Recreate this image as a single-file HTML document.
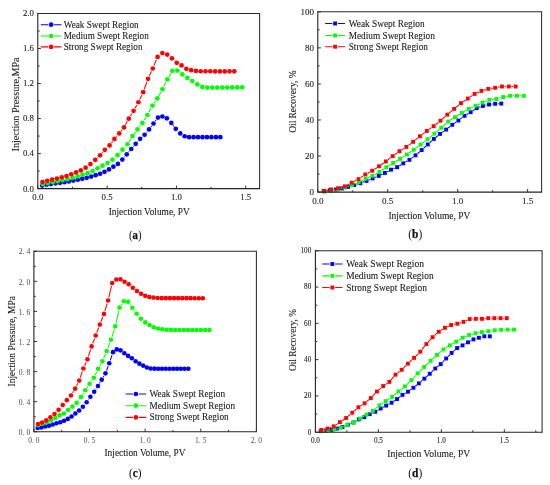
<!DOCTYPE html>
<html lang="en">
<head>
<meta charset="utf-8">
<title>Injection pressure and oil recovery curves</title>
<style>
html,body{margin:0;padding:0;background:#fff;}
body{width:550px;height:485px;overflow:hidden;}
svg{display:block;}
</style>
</head>
<body>
<svg width="550" height="485" viewBox="0 0 550 485" font-family='"Liberation Serif", serif' fill="#1a1a1a">
<rect width="550" height="485" fill="#ffffff"/>
<g id="panel-a">
<path d="M124.32 157.18L124.77 156.65M128.77 151.92L129.23 151.37M133.26 146.66L133.65 146.2M137.72 141.53L138.09 141.11M146.58 132.38L147.05 131.83M150.91 126.98L151.63 126.02M155.36 121.06L156.09 120.09M173.17 125.42L173.9 126.39" fill="none" stroke="#0000ff" stroke-width="1.05"/>
<g fill="#0000ff"><circle cx="42.15" cy="185.56" r="2.35"/><circle cx="46.61" cy="184.73" r="2.35"/><circle cx="51.06" cy="184.06" r="2.35"/><circle cx="55.51" cy="183.36" r="2.35"/><circle cx="59.97" cy="182.84" r="2.35"/><circle cx="64.42" cy="182.24" r="2.35"/><circle cx="68.88" cy="181.45" r="2.35"/><circle cx="73.33" cy="180.6" r="2.35"/><circle cx="77.78" cy="179.77" r="2.35"/><circle cx="82.24" cy="178.87" r="2.35"/><circle cx="86.69" cy="177.8" r="2.35"/><circle cx="91.14" cy="176.61" r="2.35"/><circle cx="95.6" cy="175.22" r="2.35"/><circle cx="100.05" cy="173.73" r="2.35"/><circle cx="104.5" cy="171.86" r="2.35"/><circle cx="108.96" cy="169.42" r="2.35"/><circle cx="113.41" cy="166.72" r="2.35"/><circle cx="117.87" cy="163.95" r="2.35"/><circle cx="122.32" cy="159.55" r="2.35"/><circle cx="126.77" cy="154.29" r="2.35"/><circle cx="131.23" cy="149" r="2.35"/><circle cx="135.68" cy="143.86" r="2.35"/><circle cx="140.13" cy="138.78" r="2.35"/><circle cx="144.59" cy="134.76" r="2.35"/><circle cx="149.04" cy="129.46" r="2.35"/><circle cx="153.5" cy="123.54" r="2.35"/><circle cx="157.95" cy="117.61" r="2.35"/><circle cx="162.4" cy="116.52" r="2.35"/><circle cx="166.86" cy="118.34" r="2.35"/><circle cx="171.31" cy="122.95" r="2.35"/><circle cx="175.76" cy="128.86" r="2.35"/><circle cx="180.22" cy="133.4" r="2.35"/><circle cx="184.67" cy="136.24" r="2.35"/><circle cx="189.12" cy="137.22" r="2.35"/><circle cx="193.58" cy="137.22" r="2.35"/><circle cx="198.03" cy="137.22" r="2.35"/><circle cx="202.49" cy="137.22" r="2.35"/><circle cx="206.94" cy="137.22" r="2.35"/><circle cx="211.39" cy="137.22" r="2.35"/><circle cx="215.85" cy="137.22" r="2.35"/><circle cx="220.3" cy="137.16" r="2.35"/></g>
<path d="M114.83 157.6L115.19 157.28M119.58 152.91L120.42 151.98M124.59 147.4L125.38 146.54M129.09 141.61L130.86 138.69M134.34 133.57L135.58 131.93M139.34 127L140.56 125.43M144.09 120.34L145.79 117.61M148.88 112.24L150.97 108.32M154.19 103.04L155.64 100.95M158.91 95.69L160.9 92.08M163.78 86.59L166 82.16M168.95 76.71L170.81 73.52" fill="none" stroke="#00ff00" stroke-width="1.05"/>
<g fill="#00ff00"><circle cx="42.69" cy="184.04" r="2.35"/><circle cx="47.68" cy="183.08" r="2.35"/><circle cx="52.66" cy="182.16" r="2.35"/><circle cx="57.65" cy="181.21" r="2.35"/><circle cx="62.64" cy="180.26" r="2.35"/><circle cx="67.63" cy="179.05" r="2.35"/><circle cx="72.61" cy="177.71" r="2.35"/><circle cx="77.6" cy="176.42" r="2.35"/><circle cx="82.59" cy="174.96" r="2.35"/><circle cx="87.58" cy="173.19" r="2.35"/><circle cx="92.57" cy="170.99" r="2.35"/><circle cx="97.55" cy="168.3" r="2.35"/><circle cx="102.54" cy="165.67" r="2.35"/><circle cx="107.53" cy="163" r="2.35"/><circle cx="112.52" cy="159.66" r="2.35"/><circle cx="117.5" cy="155.21" r="2.35"/><circle cx="122.49" cy="149.68" r="2.35"/><circle cx="127.48" cy="144.26" r="2.35"/><circle cx="132.47" cy="136.04" r="2.35"/><circle cx="137.46" cy="129.46" r="2.35"/><circle cx="142.44" cy="122.97" r="2.35"/><circle cx="147.43" cy="114.98" r="2.35"/><circle cx="152.42" cy="105.58" r="2.35"/><circle cx="157.41" cy="98.4" r="2.35"/><circle cx="162.4" cy="89.37" r="2.35"/><circle cx="167.38" cy="79.38" r="2.35"/><circle cx="172.37" cy="70.84" r="2.35"/><circle cx="177.36" cy="70.62" r="2.35"/><circle cx="182.35" cy="74.47" r="2.35"/><circle cx="187.33" cy="77.94" r="2.35"/><circle cx="192.32" cy="81.07" r="2.35"/><circle cx="197.31" cy="84.47" r="2.35"/><circle cx="202.3" cy="86.93" r="2.35"/><circle cx="207.29" cy="87.59" r="2.35"/><circle cx="212.27" cy="87.59" r="2.35"/><circle cx="217.26" cy="87.59" r="2.35"/><circle cx="222.25" cy="87.57" r="2.35"/><circle cx="227.24" cy="87.53" r="2.35"/><circle cx="232.22" cy="87.47" r="2.35"/><circle cx="237.21" cy="87.4" r="2.35"/><circle cx="242.2" cy="87.3" r="2.35"/></g>
<path d="M97.52 157.7L97.76 157.48M102.07 153.03L102.8 152.19M107.11 147.75L107.35 147.53M111.46 142.93L112.59 141.4M116.47 136.57L117.17 135.77M121.16 131.02L122.07 129.88M125.49 124.74L127.33 121.36M130.43 115.99L131.98 113.48M135.11 108.13L136.89 104.95M139.73 99.44L141.86 94.97M144.24 89.26L146.94 81.72M149.3 75.99L151.47 71.32M153.97 65.64L156.39 59.81M174.22 60.45L174.5 60.71" fill="none" stroke="#ff0000" stroke-width="1.05"/>
<g fill="#ff0000"><circle cx="42.5" cy="182.07" r="2.35"/><circle cx="47.29" cy="180.79" r="2.35"/><circle cx="52.09" cy="179.72" r="2.35"/><circle cx="56.88" cy="178.62" r="2.35"/><circle cx="61.68" cy="177.37" r="2.35"/><circle cx="66.47" cy="176.08" r="2.35"/><circle cx="71.27" cy="174.23" r="2.35"/><circle cx="76.06" cy="172.45" r="2.35"/><circle cx="80.86" cy="170.42" r="2.35"/><circle cx="85.65" cy="167.63" r="2.35"/><circle cx="90.45" cy="164.06" r="2.35"/><circle cx="95.24" cy="159.81" r="2.35"/><circle cx="100.04" cy="155.37" r="2.35"/><circle cx="104.83" cy="149.85" r="2.35"/><circle cx="109.63" cy="145.43" r="2.35"/><circle cx="114.42" cy="138.9" r="2.35"/><circle cx="119.22" cy="133.44" r="2.35"/><circle cx="124.01" cy="127.46" r="2.35"/><circle cx="128.81" cy="118.64" r="2.35"/><circle cx="133.6" cy="110.84" r="2.35"/><circle cx="138.4" cy="102.24" r="2.35"/><circle cx="143.19" cy="92.17" r="2.35"/><circle cx="147.99" cy="78.8" r="2.35"/><circle cx="152.78" cy="68.51" r="2.35"/><circle cx="157.58" cy="56.94" r="2.35"/><circle cx="162.37" cy="53.05" r="2.35"/><circle cx="167.17" cy="54.53" r="2.35"/><circle cx="171.96" cy="58.32" r="2.35"/><circle cx="176.76" cy="62.84" r="2.35"/><circle cx="181.55" cy="65.43" r="2.35"/><circle cx="186.35" cy="68.85" r="2.35"/><circle cx="191.14" cy="70.14" r="2.35"/><circle cx="195.94" cy="70.88" r="2.35"/><circle cx="200.73" cy="71.24" r="2.35"/><circle cx="205.53" cy="71.24" r="2.35"/><circle cx="210.32" cy="71.24" r="2.35"/><circle cx="215.12" cy="71.42" r="2.35"/><circle cx="219.91" cy="71.42" r="2.35"/><circle cx="224.71" cy="71.4" r="2.35"/><circle cx="229.5" cy="71.36" r="2.35"/><circle cx="234.3" cy="71.3" r="2.35"/></g>
<path d="M37.8 13.5 H259.6 V188.6" fill="none" stroke="#2a2a2a" stroke-width="1.05"/>
<path d="M37.8 13.5 V188.6 H259.6" fill="none" stroke="#222" stroke-width="1.1" stroke-linecap="square"/>
<path d="M37.8 188.6 v-3.1 M107.11 188.6 v-3.1 M176.43 188.6 v-3.1 M245.74 188.6 v-3.1 M72.46 188.6 v-1.9 M141.77 188.6 v-1.9 M211.08 188.6 v-1.9 M37.8 188.6 h3.1 M37.8 153.58 h3.1 M37.8 118.56 h3.1 M37.8 83.54 h3.1 M37.8 48.52 h3.1 M37.8 13.5 h3.1 M37.8 171.09 h1.9 M37.8 136.07 h1.9 M37.8 101.05 h1.9 M37.8 66.03 h1.9 M37.8 31.01 h1.9" fill="none" stroke="#2a2a2a" stroke-width="0.95"/>
<g font-size="8.8" fill="#222" stroke="#222" stroke-width="0.1">
<text x="37.8" y="199.5" text-anchor="middle">0.0</text>
<text x="107.11" y="199.5" text-anchor="middle">0.5</text>
<text x="176.43" y="199.5" text-anchor="middle">1.0</text>
<text x="245.74" y="199.5" text-anchor="middle">1.5</text>
<text x="33.9" y="191.5" text-anchor="end">0.0</text>
<text x="33.9" y="156.48" text-anchor="end">0.4</text>
<text x="33.9" y="121.46" text-anchor="end">0.8</text>
<text x="33.9" y="86.44" text-anchor="end">1.2</text>
<text x="33.9" y="51.42" text-anchor="end">1.6</text>
<text x="33.9" y="16.4" text-anchor="end">2.0</text>
</g>
<text x="149.2" y="215" font-size="9.5" stroke="#222" stroke-width="0.1" text-anchor="middle" textLength="81" lengthAdjust="spacingAndGlyphs">Injection Volume, PV</text>
<text transform="translate(18.6 104.4) rotate(-90)" font-size="9.5" stroke="#222" stroke-width="0.1" text-anchor="middle" textLength="94" lengthAdjust="spacingAndGlyphs">Injection Pressure,MPa</text>
<path d="M40.8 24.7 H48.25 M54.05 24.7 H61.5" stroke="#0000ff" stroke-width="1.15" fill="none"/>
<circle cx="51.15" cy="24.7" r="2.35" fill="#0000ff"/>
<text x="63.7" y="27.9" font-size="9.5" stroke="#222" stroke-width="0.1" textLength="74.9" lengthAdjust="spacingAndGlyphs">Weak Swept Region</text>
<path d="M40.8 36.0 H48.25 M54.05 36.0 H61.5" stroke="#00ff00" stroke-width="1.15" fill="none"/>
<circle cx="51.15" cy="36.0" r="2.35" fill="#00ff00"/>
<text x="63.7" y="39.2" font-size="9.5" stroke="#222" stroke-width="0.1" textLength="85.1" lengthAdjust="spacingAndGlyphs">Medium Swept Region</text>
<path d="M40.8 46.9 H48.25 M54.05 46.9 H61.5" stroke="#ff0000" stroke-width="1.15" fill="none"/>
<circle cx="51.15" cy="46.9" r="2.35" fill="#ff0000"/>
<text x="63.7" y="50.1" font-size="9.5" stroke="#222" stroke-width="0.1" textLength="78.8" lengthAdjust="spacingAndGlyphs">Strong Swept Region</text>
<text x="135.3" y="238.5" font-size="11.8" text-anchor="middle" fill="#111" textLength="12.6" lengthAdjust="spacingAndGlyphs">(<tspan font-weight="bold" stroke="#111" stroke-width="0.25">a</tspan>)</text>
</g>
<g id="panel-b">
<path d="M326.21 190.62L327.17 190.52M332.33 189.92L333.29 189.81M338.44 189.07L339.44 188.89M344.52 187.8L345.61 187.51M350.62 186.13L351.76 185.8M356.75 184.34L357.88 184.01M362.8 182.34L364.08 181.85M368.91 179.92L370.23 179.38M375.04 177.41L376.35 176.87M381.1 174.77L382.54 174.08M387.18 171.73L388.71 170.92M393.41 168.71L394.73 168.17M399.34 165.81L401.06 164.74M405.51 162.07L407.13 161.14M411.48 158.3L413.42 156.88M417.48 153.64L419.67 151.76M423.55 148.31L425.85 146.21M429.69 142.71L431.96 140.66M435.9 137.27L438 135.55M442.14 132.4L444.02 131.08M448.2 127.99L450.21 126.43M454.39 123.34L456.27 122.01M460.46 118.94L462.45 117.41M466.75 114.49L468.41 113.5M472.81 110.73L474.6 109.54M479.22 107.24L480.44 106.81M485.43 105.35L486.49 105.1M491.6 104.19L492.57 104.07M497.75 103.68L498.67 103.66" fill="none" stroke="#0000ff" stroke-width="1.05"/>
<g fill="#0000ff"><rect x="321.68" y="188.97" width="3.9" height="3.9"/><rect x="327.8" y="188.27" width="3.9" height="3.9"/><rect x="333.93" y="187.56" width="3.9" height="3.9"/><rect x="340.05" y="186.5" width="3.9" height="3.9"/><rect x="346.18" y="184.91" width="3.9" height="3.9"/><rect x="352.3" y="183.11" width="3.9" height="3.9"/><rect x="358.43" y="181.33" width="3.9" height="3.9"/><rect x="364.56" y="178.96" width="3.9" height="3.9"/><rect x="370.68" y="176.44" width="3.9" height="3.9"/><rect x="376.81" y="173.94" width="3.9" height="3.9"/><rect x="382.93" y="171" width="3.9" height="3.9"/><rect x="389.06" y="167.75" width="3.9" height="3.9"/><rect x="395.18" y="165.24" width="3.9" height="3.9"/><rect x="401.31" y="161.41" width="3.9" height="3.9"/><rect x="407.44" y="157.89" width="3.9" height="3.9"/><rect x="413.56" y="153.39" width="3.9" height="3.9"/><rect x="419.69" y="148.11" width="3.9" height="3.9"/><rect x="425.81" y="142.5" width="3.9" height="3.9"/><rect x="431.94" y="136.97" width="3.9" height="3.9"/><rect x="438.07" y="131.95" width="3.9" height="3.9"/><rect x="444.19" y="127.63" width="3.9" height="3.9"/><rect x="450.32" y="122.88" width="3.9" height="3.9"/><rect x="456.44" y="118.57" width="3.9" height="3.9"/><rect x="462.57" y="113.88" width="3.9" height="3.9"/><rect x="468.69" y="110.22" width="3.9" height="3.9"/><rect x="474.82" y="106.15" width="3.9" height="3.9"/><rect x="480.95" y="103.99" width="3.9" height="3.9"/><rect x="487.07" y="102.55" width="3.9" height="3.9"/><rect x="493.2" y="101.81" width="3.9" height="3.9"/><rect x="499.32" y="101.63" width="3.9" height="3.9"/></g>
<path d="M326.96 191.36L328.67 191.17M333.79 190.34L335.59 189.95M340.65 188.74L342.49 188.27M347.44 186.71L349.45 185.95M354.31 184.09L356.34 183.29M361.07 181.14L363.34 179.95M368.03 177.71L370.13 176.8M374.8 174.51L377.12 173.24M381.54 170.53L384.12 168.77M388.48 165.93L390.94 164.4M395.38 161.68L397.8 160.21M402.23 157.48L404.7 155.92M409.03 153.05L411.65 151.21M415.87 148.16L418.57 146.14M422.71 142.99L425.49 140.82M429.56 137.58L432.39 135.29M436.38 131.96L439.32 129.42M443.24 125.99L446.22 123.34M450.34 120.19L452.87 118.54M457.27 115.77L459.7 114.31M464.17 111.66L466.55 110.29M471.15 107.88L473.33 106.85M478.05 104.68L480.18 103.73M484.95 101.66L487.04 100.78M492.02 99.5L493.72 99.32M498.81 98.33L500.69 97.78M505.74 96.58L507.51 96.25M512.66 95.77L514.34 95.77M519.54 95.77L521.22 95.77" fill="none" stroke="#00ff00" stroke-width="1.05"/>
<g fill="#00ff00"><rect x="322.43" y="189.69" width="3.9" height="3.9"/><rect x="329.3" y="188.95" width="3.9" height="3.9"/><rect x="336.18" y="187.44" width="3.9" height="3.9"/><rect x="343.06" y="185.67" width="3.9" height="3.9"/><rect x="349.94" y="183.09" width="3.9" height="3.9"/><rect x="356.81" y="180.4" width="3.9" height="3.9"/><rect x="363.69" y="176.79" width="3.9" height="3.9"/><rect x="370.57" y="173.81" width="3.9" height="3.9"/><rect x="377.45" y="170.05" width="3.9" height="3.9"/><rect x="384.32" y="165.35" width="3.9" height="3.9"/><rect x="391.2" y="161.07" width="3.9" height="3.9"/><rect x="398.08" y="156.92" width="3.9" height="3.9"/><rect x="404.95" y="152.59" width="3.9" height="3.9"/><rect x="411.83" y="147.77" width="3.9" height="3.9"/><rect x="418.71" y="142.64" width="3.9" height="3.9"/><rect x="425.59" y="137.26" width="3.9" height="3.9"/><rect x="432.46" y="131.7" width="3.9" height="3.9"/><rect x="439.34" y="125.77" width="3.9" height="3.9"/><rect x="446.22" y="119.66" width="3.9" height="3.9"/><rect x="453.1" y="115.17" width="3.9" height="3.9"/><rect x="459.97" y="111.01" width="3.9" height="3.9"/><rect x="466.85" y="107.04" width="3.9" height="3.9"/><rect x="473.73" y="103.79" width="3.9" height="3.9"/><rect x="480.6" y="100.72" width="3.9" height="3.9"/><rect x="487.48" y="97.82" width="3.9" height="3.9"/><rect x="494.36" y="97.1" width="3.9" height="3.9"/><rect x="501.24" y="95.11" width="3.9" height="3.9"/><rect x="508.11" y="93.82" width="3.9" height="3.9"/><rect x="514.99" y="93.82" width="3.9" height="3.9"/><rect x="521.87" y="93.82" width="3.9" height="3.9"/></g>
<path d="M326.88 190.35L328.62 189.99M333.72 188.98L335.44 188.67M340.51 187.51L342.32 187.02M347.13 185.13L349.36 183.95M353.96 181.52L356.19 180.35M360.64 177.68L363.18 175.94M367.61 173.23L369.87 172.01M374.33 169.35L376.82 167.71M381.11 164.78L383.7 162.95M387.87 159.84L390.61 157.7M394.77 154.59L397.37 152.75M401.69 149.86L404.12 148.32M408.4 145.38L411.07 143.39M415.17 140.19L417.97 137.92M422.03 134.67L424.77 132.54M428.94 129.44L431.52 127.63M435.69 124.52L438.44 122.35M442.42 119.01L445.37 116.38M449.3 112.97L452.16 110.58M456.14 107.23L458.99 104.84M463.13 101.71L465.65 100.01M469.96 97.09L472.49 95.36M477.02 92.84L479.1 91.92M483.97 90.13L485.81 89.59M490.87 88.45L492.57 88.18M497.7 87.3L499.42 86.98M504.57 86.51L506.2 86.51M511.4 86.51L513.04 86.51" fill="none" stroke="#ff0000" stroke-width="1.05"/>
<g fill="#ff0000"><rect x="322.38" y="188.94" width="3.9" height="3.9"/><rect x="329.21" y="187.5" width="3.9" height="3.9"/><rect x="336.05" y="186.25" width="3.9" height="3.9"/><rect x="342.88" y="184.39" width="3.9" height="3.9"/><rect x="349.71" y="180.78" width="3.9" height="3.9"/><rect x="356.54" y="177.19" width="3.9" height="3.9"/><rect x="363.38" y="172.52" width="3.9" height="3.9"/><rect x="370.21" y="168.82" width="3.9" height="3.9"/><rect x="377.04" y="164.34" width="3.9" height="3.9"/><rect x="383.87" y="159.5" width="3.9" height="3.9"/><rect x="390.71" y="154.15" width="3.9" height="3.9"/><rect x="397.54" y="149.29" width="3.9" height="3.9"/><rect x="404.37" y="144.99" width="3.9" height="3.9"/><rect x="411.2" y="139.88" width="3.9" height="3.9"/><rect x="418.03" y="134.32" width="3.9" height="3.9"/><rect x="424.87" y="128.99" width="3.9" height="3.9"/><rect x="431.7" y="124.19" width="3.9" height="3.9"/><rect x="438.53" y="118.78" width="3.9" height="3.9"/><rect x="445.36" y="112.7" width="3.9" height="3.9"/><rect x="452.2" y="106.95" width="3.9" height="3.9"/><rect x="459.03" y="101.21" width="3.9" height="3.9"/><rect x="465.86" y="96.61" width="3.9" height="3.9"/><rect x="472.69" y="91.95" width="3.9" height="3.9"/><rect x="479.52" y="88.91" width="3.9" height="3.9"/><rect x="486.36" y="86.91" width="3.9" height="3.9"/><rect x="493.19" y="85.82" width="3.9" height="3.9"/><rect x="500.02" y="84.56" width="3.9" height="3.9"/><rect x="506.85" y="84.56" width="3.9" height="3.9"/><rect x="513.69" y="84.56" width="3.9" height="3.9"/></g>
<path d="M317.8 11.8 H541.6 V192.1" fill="none" stroke="#2a2a2a" stroke-width="1.05"/>
<path d="M317.8 11.8 V192.1 H541.6" fill="none" stroke="#222" stroke-width="1.1" stroke-linecap="square"/>
<path d="M317.8 192.1 v-3.1 M387.74 192.1 v-3.1 M457.68 192.1 v-3.1 M527.61 192.1 v-3.1 M352.77 192.1 v-1.9 M422.71 192.1 v-1.9 M492.64 192.1 v-1.9 M317.8 192.1 h3.1 M317.8 156.04 h3.1 M317.8 119.98 h3.1 M317.8 83.92 h3.1 M317.8 47.86 h3.1 M317.8 11.8 h3.1 M317.8 174.07 h1.9 M317.8 138.01 h1.9 M317.8 101.95 h1.9 M317.8 65.89 h1.9 M317.8 29.83 h1.9" fill="none" stroke="#2a2a2a" stroke-width="0.95"/>
<g font-size="9.0" fill="#222" stroke="#222" stroke-width="0.1">
<text x="317.8" y="203.5" text-anchor="middle">0.0</text>
<text x="387.74" y="203.5" text-anchor="middle">0.5</text>
<text x="457.68" y="203.5" text-anchor="middle">1.0</text>
<text x="527.61" y="203.5" text-anchor="middle">1.5</text>
<text x="314" y="195.07" text-anchor="end">0</text>
<text x="314" y="159.01" text-anchor="end">20</text>
<text x="314" y="122.95" text-anchor="end">40</text>
<text x="314" y="86.89" text-anchor="end">60</text>
<text x="314" y="50.83" text-anchor="end">80</text>
<text x="314" y="14.77" text-anchor="end">100</text>
</g>
<text x="429.4" y="218.6" font-size="9.5" stroke="#222" stroke-width="0.1" text-anchor="middle" textLength="82" lengthAdjust="spacingAndGlyphs">Injection Volume, PV</text>
<text transform="translate(295.8 101.6) rotate(-90)" font-size="9.5" stroke="#222" stroke-width="0.1" text-anchor="middle" textLength="62.4" lengthAdjust="spacingAndGlyphs">Oil Recovery, %</text>
<path d="M325.2 23.5 H332.3 M337.9 23.5 H345" stroke="#0000ff" stroke-width="1.15" fill="none"/>
<rect x="333.15" y="21.55" width="3.9" height="3.9" fill="#0000ff"/>
<text x="348.7" y="27" font-size="9.5" stroke="#222" stroke-width="0.1" textLength="76" lengthAdjust="spacingAndGlyphs">Weak Swept Region</text>
<path d="M325.2 35.5 H332.3 M337.9 35.5 H345" stroke="#00ff00" stroke-width="1.15" fill="none"/>
<rect x="333.15" y="33.55" width="3.9" height="3.9" fill="#00ff00"/>
<text x="348.7" y="39" font-size="9.5" stroke="#222" stroke-width="0.1" textLength="86.2" lengthAdjust="spacingAndGlyphs">Medium Swept Region</text>
<path d="M325.2 46.7 H332.3 M337.9 46.7 H345" stroke="#ff0000" stroke-width="1.15" fill="none"/>
<rect x="333.15" y="44.75" width="3.9" height="3.9" fill="#ff0000"/>
<text x="348.7" y="50.2" font-size="9.5" stroke="#222" stroke-width="0.1" textLength="79.2" lengthAdjust="spacingAndGlyphs">Strong Swept Region</text>
<text x="415.2" y="237.7" font-size="11.8" text-anchor="middle" fill="#111" textLength="14.0" lengthAdjust="spacingAndGlyphs">(<tspan font-weight="bold" stroke="#111" stroke-width="0.25">b</tspan>)</text>
</g>
<g id="panel-c">
<path d="M88.41 399.69L88.65 399.34M95.88 389.19L96.24 388.64M99.52 383.38L100.14 382.31M103.31 376.98L103.89 376.02M106.56 370.45L108.17 366.14M110.25 360.3L112.02 355.08" fill="none" stroke="#0000ff" stroke-width="1.05"/>
<g fill="#0000ff"><circle cx="37.67" cy="428.04" r="2.3"/><circle cx="41.43" cy="427.45" r="2.3"/><circle cx="45.2" cy="426.53" r="2.3"/><circle cx="48.97" cy="425.63" r="2.3"/><circle cx="52.74" cy="424.53" r="2.3"/><circle cx="56.5" cy="423.28" r="2.3"/><circle cx="60.27" cy="422.2" r="2.3"/><circle cx="64.04" cy="420.74" r="2.3"/><circle cx="67.81" cy="418.92" r="2.3"/><circle cx="71.57" cy="416.57" r="2.3"/><circle cx="75.34" cy="413.51" r="2.3"/><circle cx="79.11" cy="410.46" r="2.3"/><circle cx="82.88" cy="406.7" r="2.3"/><circle cx="86.64" cy="402.24" r="2.3"/><circle cx="90.41" cy="396.79" r="2.3"/><circle cx="94.18" cy="391.78" r="2.3"/><circle cx="97.95" cy="386.05" r="2.3"/><circle cx="101.71" cy="379.64" r="2.3"/><circle cx="105.48" cy="373.36" r="2.3"/><circle cx="109.25" cy="363.24" r="2.3"/><circle cx="113.02" cy="352.15" r="2.3"/><circle cx="116.78" cy="349.42" r="2.3"/><circle cx="120.55" cy="350.33" r="2.3"/><circle cx="124.32" cy="353.2" r="2.3"/><circle cx="128.09" cy="355.9" r="2.3"/><circle cx="131.85" cy="358.22" r="2.3"/><circle cx="135.62" cy="361.27" r="2.3"/><circle cx="139.39" cy="363.63" r="2.3"/><circle cx="143.15" cy="365.62" r="2.3"/><circle cx="146.92" cy="367.47" r="2.3"/><circle cx="150.69" cy="368.45" r="2.3"/><circle cx="154.46" cy="368.67" r="2.3"/><circle cx="158.22" cy="368.68" r="2.3"/><circle cx="161.99" cy="368.68" r="2.3"/><circle cx="165.76" cy="368.68" r="2.3"/><circle cx="169.53" cy="368.68" r="2.3"/><circle cx="173.29" cy="368.68" r="2.3"/><circle cx="177.06" cy="368.68" r="2.3"/><circle cx="180.83" cy="368.68" r="2.3"/><circle cx="184.6" cy="368.68" r="2.3"/><circle cx="188.36" cy="368.68" r="2.3"/></g>
<path d="M78.56 400.37L79.15 399.58M82.65 394.47L83.63 392.93M86.99 387.72L87.86 386.39M91.35 381.27L92.06 380.28M95.19 374.95L96.78 371.63M99.67 366.14L100.87 364.04M103.59 358.48L105.51 353.82M107.8 348.06L109.87 342.64M111.92 336.79L114.31 329.33M115.94 323.35L118.85 310.62M121.27 305.03L122.09 303.81M129.9 304.33L130.58 305.28M134.19 310.32L134.85 311.22M138.69 316.09L138.92 316.36" fill="none" stroke="#00ff00" stroke-width="1.05"/>
<g fill="#00ff00"><circle cx="38.18" cy="425.31" r="2.3"/><circle cx="42.46" cy="423.82" r="2.3"/><circle cx="46.75" cy="422.13" r="2.3"/><circle cx="51.03" cy="420.33" r="2.3"/><circle cx="55.31" cy="417.98" r="2.3"/><circle cx="59.59" cy="415.32" r="2.3"/><circle cx="63.87" cy="413.54" r="2.3"/><circle cx="68.15" cy="409.96" r="2.3"/><circle cx="72.44" cy="406.61" r="2.3"/><circle cx="76.72" cy="402.86" r="2.3"/><circle cx="81" cy="397.09" r="2.3"/><circle cx="85.28" cy="390.31" r="2.3"/><circle cx="89.56" cy="383.81" r="2.3"/><circle cx="93.84" cy="377.74" r="2.3"/><circle cx="98.13" cy="368.83" r="2.3"/><circle cx="102.41" cy="361.35" r="2.3"/><circle cx="106.69" cy="350.96" r="2.3"/><circle cx="110.97" cy="339.75" r="2.3"/><circle cx="115.25" cy="326.37" r="2.3"/><circle cx="119.54" cy="307.6" r="2.3"/><circle cx="123.82" cy="301.24" r="2.3"/><circle cx="128.1" cy="301.81" r="2.3"/><circle cx="132.38" cy="307.8" r="2.3"/><circle cx="136.66" cy="313.74" r="2.3"/><circle cx="140.94" cy="318.71" r="2.3"/><circle cx="145.23" cy="322.41" r="2.3"/><circle cx="149.51" cy="325.06" r="2.3"/><circle cx="153.79" cy="327.2" r="2.3"/><circle cx="158.07" cy="328.5" r="2.3"/><circle cx="162.35" cy="329.21" r="2.3"/><circle cx="166.63" cy="329.76" r="2.3"/><circle cx="170.92" cy="329.89" r="2.3"/><circle cx="175.2" cy="329.97" r="2.3"/><circle cx="179.48" cy="330" r="2.3"/><circle cx="183.76" cy="330" r="2.3"/><circle cx="188.04" cy="330" r="2.3"/><circle cx="192.33" cy="330" r="2.3"/><circle cx="196.61" cy="330" r="2.3"/><circle cx="200.89" cy="330" r="2.3"/><circle cx="205.17" cy="330" r="2.3"/><circle cx="209.45" cy="330" r="2.3"/></g>
<path d="M72.59 392.87L73.53 391.3M76.53 385.88L77.83 383.35M80.24 377.66L82.36 371.42M84.64 365.66L86.2 362.2M88.42 356.42L90.66 349.35M92.7 343.5L94.63 338.41M96.82 332.61L98.75 327.49M100.96 321.7L102.86 316.78M104.88 310.92L107.18 303.49M108.8 297.51L111.5 285.96" fill="none" stroke="#ff0000" stroke-width="1.05"/>
<g fill="#ff0000"><circle cx="38.02" cy="424.1" r="2.3"/><circle cx="42.14" cy="422.48" r="2.3"/><circle cx="46.27" cy="420.42" r="2.3"/><circle cx="50.39" cy="417.36" r="2.3"/><circle cx="54.51" cy="413.97" r="2.3"/><circle cx="58.63" cy="409.84" r="2.3"/><circle cx="62.75" cy="405" r="2.3"/><circle cx="66.87" cy="400.17" r="2.3"/><circle cx="71" cy="395.53" r="2.3"/><circle cx="75.12" cy="388.64" r="2.3"/><circle cx="79.24" cy="380.59" r="2.3"/><circle cx="83.36" cy="368.49" r="2.3"/><circle cx="87.48" cy="359.37" r="2.3"/><circle cx="91.6" cy="346.4" r="2.3"/><circle cx="95.73" cy="335.51" r="2.3"/><circle cx="99.85" cy="324.59" r="2.3"/><circle cx="103.97" cy="313.88" r="2.3"/><circle cx="108.09" cy="300.53" r="2.3"/><circle cx="112.21" cy="282.94" r="2.3"/><circle cx="116.33" cy="279.43" r="2.3"/><circle cx="120.46" cy="279.27" r="2.3"/><circle cx="124.58" cy="281.75" r="2.3"/><circle cx="128.7" cy="284.28" r="2.3"/><circle cx="132.82" cy="287.69" r="2.3"/><circle cx="136.94" cy="291.04" r="2.3"/><circle cx="141.06" cy="293.7" r="2.3"/><circle cx="145.19" cy="295.83" r="2.3"/><circle cx="149.31" cy="297.1" r="2.3"/><circle cx="153.43" cy="297.62" r="2.3"/><circle cx="157.55" cy="297.98" r="2.3"/><circle cx="161.67" cy="298.15" r="2.3"/><circle cx="165.79" cy="298.15" r="2.3"/><circle cx="169.92" cy="298.15" r="2.3"/><circle cx="174.04" cy="298.15" r="2.3"/><circle cx="178.16" cy="298.16" r="2.3"/><circle cx="182.28" cy="298.16" r="2.3"/><circle cx="186.4" cy="298.16" r="2.3"/><circle cx="190.52" cy="298.17" r="2.3"/><circle cx="194.65" cy="298.18" r="2.3"/><circle cx="198.77" cy="298.19" r="2.3"/><circle cx="202.89" cy="298.2" r="2.3"/></g>
<path d="M33.9 251.2 H256.4 V431.8" fill="none" stroke="#2a2a2a" stroke-width="1.05"/>
<path d="M33.9 251.2 V431.8 H256.4" fill="none" stroke="#222" stroke-width="1.1" stroke-linecap="square"/>
<path d="M33.9 431.8 v-3.1 M89.52 431.8 v-3.1 M145.15 431.8 v-3.1 M200.77 431.8 v-3.1 M256.4 431.8 v-3.1 M61.71 431.8 v-1.9 M117.34 431.8 v-1.9 M172.96 431.8 v-1.9 M228.59 431.8 v-1.9 M33.9 431.8 h3.1 M33.9 401.7 h3.1 M33.9 371.6 h3.1 M33.9 341.5 h3.1 M33.9 311.4 h3.1 M33.9 281.3 h3.1 M33.9 251.2 h3.1 M33.9 416.75 h1.9 M33.9 386.65 h1.9 M33.9 356.55 h1.9 M33.9 326.45 h1.9 M33.9 296.35 h1.9 M33.9 266.25 h1.9" fill="none" stroke="#2a2a2a" stroke-width="0.95"/>
<g font-size="8" fill="#4a4a4a">
<text transform="translate(28.2 442.5) scale(0.95 1)">0.<tspan dx="2">0</tspan></text>
<text transform="translate(83.82 442.5) scale(0.95 1)">0.<tspan dx="2">5</tspan></text>
<text transform="translate(139.45 442.5) scale(0.95 1)">1.<tspan dx="2">0</tspan></text>
<text transform="translate(195.07 442.5) scale(0.95 1)">1.<tspan dx="2">5</tspan></text>
<text transform="translate(250.7 442.5) scale(0.95 1)">2.<tspan dx="2">0</tspan></text>
<text transform="translate(18.8 435.08) scale(0.95 1)">0.<tspan dx="2">0</tspan></text>
<text transform="translate(18.8 404.98) scale(0.95 1)">0.<tspan dx="2">4</tspan></text>
<text transform="translate(18.8 374.88) scale(0.95 1)">0.<tspan dx="2">8</tspan></text>
<text transform="translate(18.8 344.78) scale(0.95 1)">1.<tspan dx="2">2</tspan></text>
<text transform="translate(18.8 314.68) scale(0.95 1)">1.<tspan dx="2">6</tspan></text>
<text transform="translate(18.8 284.58) scale(0.95 1)">2.<tspan dx="2">0</tspan></text>
<text transform="translate(18.8 254.48) scale(0.95 1)">2.<tspan dx="2">4</tspan></text>
</g>
<text x="145" y="455.5" font-size="9.5" stroke="#222" stroke-width="0.1" text-anchor="middle" textLength="81" lengthAdjust="spacingAndGlyphs">Injection Volume, PV</text>
<text transform="translate(15 341.3) rotate(-90)" font-size="9.5" stroke="#222" stroke-width="0.1" text-anchor="middle" textLength="90.3" lengthAdjust="spacingAndGlyphs">Injection Pressure, MPa</text>
<path d="M125.6 394 H133 M138.8 394 H146.2" stroke="#0000ff" stroke-width="1.15" fill="none"/>
<circle cx="135.9" cy="394" r="2.35" fill="#0000ff"/>
<text x="149.5" y="397" font-size="9.5" stroke="#222" stroke-width="0.1" textLength="75.6" lengthAdjust="spacingAndGlyphs">Weak Swept Region</text>
<path d="M125.6 405.7 H133 M138.8 405.7 H146.2" stroke="#00ff00" stroke-width="1.15" fill="none"/>
<circle cx="135.9" cy="405.7" r="2.35" fill="#00ff00"/>
<text x="149.5" y="408.7" font-size="9.5" stroke="#222" stroke-width="0.1" textLength="85.5" lengthAdjust="spacingAndGlyphs">Medium Swept Region</text>
<path d="M125.6 417.4 H133 M138.8 417.4 H146.2" stroke="#ff0000" stroke-width="1.15" fill="none"/>
<circle cx="135.9" cy="417.4" r="2.35" fill="#ff0000"/>
<text x="149.5" y="420.4" font-size="9.5" stroke="#222" stroke-width="0.1" textLength="79.2" lengthAdjust="spacingAndGlyphs">Strong Swept Region</text>
<text x="135.3" y="477.3" font-size="11.8" text-anchor="middle" fill="#111" textLength="12.6" lengthAdjust="spacingAndGlyphs">(<tspan font-weight="bold" stroke="#111" stroke-width="0.25">c</tspan>)</text>
</g>
<g id="panel-d">
<path d="M328.69 430.26L328.99 430.21M334.1 429.26L334.5 429.17M339.54 427.89L339.97 427.77M344.87 426.05L345.56 425.74M350.35 423.73L350.99 423.48M355.66 421.22L356.59 420.69M361.27 418.44L361.9 418.19M366.57 415.94L367.51 415.42M372.15 413.11L372.84 412.81M377.46 410.44L378.45 409.84M382.98 407.29L383.84 406.82M388.43 404.38L389.3 403.92M393.76 401.26L394.89 400.51M399.12 397.48L400.45 396.47M404.75 393.57L405.72 392.99M410.08 390.16L411.31 389.28M415.45 386.13L416.85 385M420.85 381.67L422.37 380.35M426.27 376.92L427.86 375.5M431.66 371.96L433.38 370.31M437.28 366.88L438.68 365.75M442.52 362.25L444.35 360.36M447.99 356.64L449.8 354.8M453.56 351.22L455.14 349.8M459.41 346.93L460.2 346.54M464.8 344.12L465.73 343.59M470.29 341.09L471.15 340.63M475.94 338.66L476.41 338.52M481.42 337.1L481.85 336.98" fill="none" stroke="#0000ff" stroke-width="1.05"/>
<g fill="#0000ff"><rect x="318.71" y="429.21" width="3.9" height="3.9"/><rect x="324.16" y="428.66" width="3.9" height="3.9"/><rect x="329.62" y="427.91" width="3.9" height="3.9"/><rect x="335.08" y="426.62" width="3.9" height="3.9"/><rect x="340.53" y="425.14" width="3.9" height="3.9"/><rect x="345.99" y="422.75" width="3.9" height="3.9"/><rect x="351.45" y="420.55" width="3.9" height="3.9"/><rect x="356.9" y="417.46" width="3.9" height="3.9"/><rect x="362.36" y="415.28" width="3.9" height="3.9"/><rect x="367.82" y="412.19" width="3.9" height="3.9"/><rect x="373.28" y="409.83" width="3.9" height="3.9"/><rect x="378.73" y="406.56" width="3.9" height="3.9"/><rect x="384.19" y="403.65" width="3.9" height="3.9"/><rect x="389.65" y="400.75" width="3.9" height="3.9"/><rect x="395.1" y="397.12" width="3.9" height="3.9"/><rect x="400.56" y="392.94" width="3.9" height="3.9"/><rect x="406.02" y="389.73" width="3.9" height="3.9"/><rect x="411.47" y="385.81" width="3.9" height="3.9"/><rect x="416.93" y="381.42" width="3.9" height="3.9"/><rect x="422.39" y="376.7" width="3.9" height="3.9"/><rect x="427.84" y="371.82" width="3.9" height="3.9"/><rect x="433.3" y="366.55" width="3.9" height="3.9"/><rect x="438.76" y="362.17" width="3.9" height="3.9"/><rect x="444.21" y="356.54" width="3.9" height="3.9"/><rect x="449.67" y="351" width="3.9" height="3.9"/><rect x="455.13" y="346.12" width="3.9" height="3.9"/><rect x="460.58" y="343.45" width="3.9" height="3.9"/><rect x="466.04" y="340.36" width="3.9" height="3.9"/><rect x="471.5" y="337.45" width="3.9" height="3.9"/><rect x="476.95" y="335.82" width="3.9" height="3.9"/><rect x="482.41" y="334.36" width="3.9" height="3.9"/><rect x="487.87" y="334.36" width="3.9" height="3.9"/></g>
<path d="M324.21 430.67L325.43 430.61M330.59 430.02L331.88 429.8M336.96 428.72L338.33 428.38M343.22 426.68L344.9 425.91M349.68 423.87L351.26 423.23M355.93 420.98L357.83 419.89M362.31 417.25L364.28 416.04M368.73 413.35L370.69 412.18M374.89 409.15L377.35 407.04M381.5 403.93L383.57 402.57M387.91 399.71L389.99 398.32M394.13 395.19L396.59 393.08M400.62 389.8L402.93 388.01M406.84 384.6L409.54 381.94M413.18 378.24L416.02 375.26M419.65 371.54L422.38 368.81M426.09 365.16L428.77 362.56M432.55 359L435.12 356.65M439.02 353.21L441.48 351.12M445.65 348.04L447.68 346.76M452.13 344.07L454.03 342.99M458.49 340.32L460.49 339.07M465.09 336.68L466.72 335.99M471.62 334.29L473.02 333.9M478.09 332.78L479.37 332.56M484.51 331.75L485.77 331.57M490.92 330.85L492.19 330.67M497.35 330.1L498.58 329.99M503.77 329.7L504.99 329.67M510.19 329.59L511.4 329.59" fill="none" stroke="#00ff00" stroke-width="1.05"/>
<g fill="#00ff00"><rect x="319.66" y="428.87" width="3.9" height="3.9"/><rect x="326.08" y="428.51" width="3.9" height="3.9"/><rect x="332.49" y="427.4" width="3.9" height="3.9"/><rect x="338.9" y="425.8" width="3.9" height="3.9"/><rect x="345.31" y="422.88" width="3.9" height="3.9"/><rect x="351.73" y="420.32" width="3.9" height="3.9"/><rect x="358.14" y="416.65" width="3.9" height="3.9"/><rect x="364.55" y="412.73" width="3.9" height="3.9"/><rect x="370.97" y="408.89" width="3.9" height="3.9"/><rect x="377.38" y="403.4" width="3.9" height="3.9"/><rect x="383.79" y="399.2" width="3.9" height="3.9"/><rect x="390.2" y="394.93" width="3.9" height="3.9"/><rect x="396.62" y="389.44" width="3.9" height="3.9"/><rect x="403.03" y="384.47" width="3.9" height="3.9"/><rect x="409.44" y="378.17" width="3.9" height="3.9"/><rect x="415.86" y="371.43" width="3.9" height="3.9"/><rect x="422.27" y="365.02" width="3.9" height="3.9"/><rect x="428.68" y="358.8" width="3.9" height="3.9"/><rect x="435.1" y="352.95" width="3.9" height="3.9"/><rect x="441.51" y="347.49" width="3.9" height="3.9"/><rect x="447.92" y="343.41" width="3.9" height="3.9"/><rect x="454.33" y="339.75" width="3.9" height="3.9"/><rect x="460.75" y="335.74" width="3.9" height="3.9"/><rect x="467.16" y="333.03" width="3.9" height="3.9"/><rect x="473.57" y="331.26" width="3.9" height="3.9"/><rect x="479.99" y="330.17" width="3.9" height="3.9"/><rect x="486.4" y="329.26" width="3.9" height="3.9"/><rect x="492.81" y="328.37" width="3.9" height="3.9"/><rect x="499.22" y="327.82" width="3.9" height="3.9"/><rect x="505.64" y="327.64" width="3.9" height="3.9"/><rect x="512.05" y="327.64" width="3.9" height="3.9"/></g>
<path d="M323.92 429.35L325.02 429.1M330 427.66L331.29 427.2M335.89 424.87L337.76 423.62M342.07 420.71L343.94 419.45M348.07 416.31L350.29 414.43M354.22 411.02L356.5 409.01M360.63 405.87L362.44 404.7M366.61 401.61L368.82 399.73M372.59 396.16L375.2 393.4M378.93 389.79L381.21 387.77M385.32 384.59L387.18 383.34M391.03 379.91L393.82 376.67M397.55 373.08L399.66 371.41M403.54 367.96L406.03 365.46M409.78 361.86L412.15 359.65M415.89 356.04L418.39 353.54M421.87 349.68L424.77 346.09M428.15 342.13L430.85 339.12M434.54 335.46L436.81 333.46M440.95 330.34L442.76 329.17M447.32 326.71L448.74 326.09M453.66 324.49L454.76 324.24M459.8 322.95L460.98 322.6M465.85 320.79L467.29 320.13M472.25 318.94L473.24 318.9M478.44 318.79L479.41 318.79M484.6 318.52L485.61 318.42M490.79 318.15L491.77 318.15M496.97 318.15L497.95 318.15M503.15 318.15L504.13 318.15" fill="none" stroke="#ff0000" stroke-width="1.05"/>
<g fill="#ff0000"><rect x="319.43" y="427.96" width="3.9" height="3.9"/><rect x="325.61" y="426.59" width="3.9" height="3.9"/><rect x="331.78" y="424.37" width="3.9" height="3.9"/><rect x="337.96" y="420.21" width="3.9" height="3.9"/><rect x="344.14" y="416.05" width="3.9" height="3.9"/><rect x="350.32" y="410.79" width="3.9" height="3.9"/><rect x="356.5" y="405.33" width="3.9" height="3.9"/><rect x="362.68" y="401.34" width="3.9" height="3.9"/><rect x="368.85" y="396.1" width="3.9" height="3.9"/><rect x="375.03" y="389.56" width="3.9" height="3.9"/><rect x="381.21" y="384.1" width="3.9" height="3.9"/><rect x="387.39" y="379.93" width="3.9" height="3.9"/><rect x="393.57" y="372.74" width="3.9" height="3.9"/><rect x="399.75" y="367.84" width="3.9" height="3.9"/><rect x="405.92" y="361.68" width="3.9" height="3.9"/><rect x="412.1" y="355.93" width="3.9" height="3.9"/><rect x="418.28" y="349.75" width="3.9" height="3.9"/><rect x="424.46" y="342.12" width="3.9" height="3.9"/><rect x="430.64" y="335.23" width="3.9" height="3.9"/><rect x="436.82" y="329.79" width="3.9" height="3.9"/><rect x="442.99" y="325.81" width="3.9" height="3.9"/><rect x="449.17" y="323.09" width="3.9" height="3.9"/><rect x="455.35" y="321.73" width="3.9" height="3.9"/><rect x="461.53" y="319.92" width="3.9" height="3.9"/><rect x="467.71" y="317.11" width="3.9" height="3.9"/><rect x="473.89" y="316.84" width="3.9" height="3.9"/><rect x="480.06" y="316.84" width="3.9" height="3.9"/><rect x="486.24" y="316.2" width="3.9" height="3.9"/><rect x="492.42" y="316.2" width="3.9" height="3.9"/><rect x="498.6" y="316.2" width="3.9" height="3.9"/><rect x="504.78" y="316.2" width="3.9" height="3.9"/></g>
<path d="M315.4 250.8 H542.1 V432.2" fill="none" stroke="#2a2a2a" stroke-width="1.05"/>
<path d="M315.4 250.8 V432.2 H542.1" fill="none" stroke="#222" stroke-width="1.1" stroke-linecap="square"/>
<path d="M315.4 432.2 v-3.1 M378.37 432.2 v-3.1 M441.34 432.2 v-3.1 M504.32 432.2 v-3.1 M346.89 432.2 v-1.9 M409.86 432.2 v-1.9 M472.83 432.2 v-1.9 M535.8 432.2 v-1.9 M315.4 432.2 h3.1 M315.4 395.92 h3.1 M315.4 359.64 h3.1 M315.4 323.36 h3.1 M315.4 287.08 h3.1 M315.4 250.8 h3.1 M315.4 414.06 h1.9 M315.4 377.78 h1.9 M315.4 341.5 h1.9 M315.4 305.22 h1.9 M315.4 268.94 h1.9" fill="none" stroke="#2a2a2a" stroke-width="0.95"/>
<g font-size="7.2" fill="#222" stroke="#222" stroke-width="0.1">
<text x="315.4" y="443.2" text-anchor="middle">0.0</text>
<text x="378.37" y="443.2" text-anchor="middle">0.5</text>
<text x="441.34" y="443.2" text-anchor="middle">1.0</text>
<text x="504.32" y="443.2" text-anchor="middle">1.5</text>
<text x="311.3" y="434.58" text-anchor="end">0</text>
<text x="311.3" y="398.3" text-anchor="end">20</text>
<text x="311.3" y="362.02" text-anchor="end">40</text>
<text x="311.3" y="325.74" text-anchor="end">60</text>
<text x="311.3" y="289.46" text-anchor="end">80</text>
<text x="311.3" y="253.18" text-anchor="end">100</text>
</g>
<text x="428.8" y="456.9" font-size="9.5" stroke="#222" stroke-width="0.1" text-anchor="middle" textLength="83" lengthAdjust="spacingAndGlyphs">Injection Volume, PV</text>
<text transform="translate(295.7 340) rotate(-90)" font-size="9.5" stroke="#222" stroke-width="0.1" text-anchor="middle" textLength="62" lengthAdjust="spacingAndGlyphs">Oil Recovery, %</text>
<path d="M322.2 264.0 H329.55 M335.15 264.0 H342.5" stroke="#0000ff" stroke-width="1.15" fill="none"/>
<rect x="330.4" y="262.05" width="3.9" height="3.9" fill="#0000ff"/>
<text x="346.3" y="267.2" font-size="9.5" stroke="#222" stroke-width="0.1" textLength="77.7" lengthAdjust="spacingAndGlyphs">Weak Swept Region</text>
<path d="M322.2 275.8 H329.55 M335.15 275.8 H342.5" stroke="#00ff00" stroke-width="1.15" fill="none"/>
<rect x="330.4" y="273.85" width="3.9" height="3.9" fill="#00ff00"/>
<text x="346.3" y="279" font-size="9.5" stroke="#222" stroke-width="0.1" textLength="87.3" lengthAdjust="spacingAndGlyphs">Medium Swept Region</text>
<path d="M322.2 287.5 H329.55 M335.15 287.5 H342.5" stroke="#ff0000" stroke-width="1.15" fill="none"/>
<rect x="330.4" y="285.55" width="3.9" height="3.9" fill="#ff0000"/>
<text x="346.3" y="290.7" font-size="9.5" stroke="#222" stroke-width="0.1" textLength="80.6" lengthAdjust="spacingAndGlyphs">Strong Swept Region</text>
<text x="415.2" y="476.5" font-size="11.8" text-anchor="middle" fill="#111" textLength="14.0" lengthAdjust="spacingAndGlyphs">(<tspan font-weight="bold" stroke="#111" stroke-width="0.25">d</tspan>)</text>
</g>
</svg>
</body>
</html>
